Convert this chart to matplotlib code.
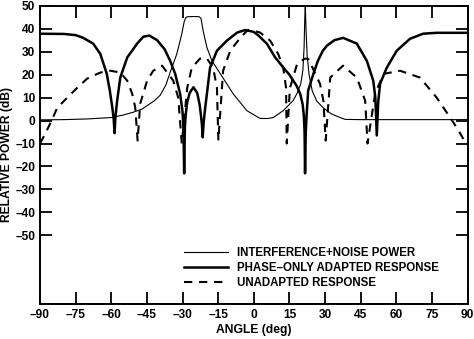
import matplotlib
matplotlib.use("Agg")
import matplotlib.pyplot as plt
from matplotlib.lines import Line2D

plt.rcParams['font.family'] = ['Liberation Sans', 'DejaVu Sans']
plt.rcParams['font.weight'] = 'bold'
plt.rcParams['axes.unicode_minus'] = False

# Interference + noise power (thin solid)
noise_angle = [-90, -80, -70, -60, -55, -50.8, -47.0, -44.9, -42.0, -39.4, -37.0,
               -35.2, -32.4, -30.3, -29.3, -28.6, -28.0, -25.0, -23.0, -22.2, -21.3,
               -19.7, -17.6, -14.1, -8.7, -2.9, 2.7, 6.0, 8.2, 12.4, 16.6, 18.3, 19.8,
               20.7, 21.2, 21.5, 21.7, 22.0, 22.5, 23.3, 24.6, 26.5, 29.2, 32.5, 36.4,
               38.5, 45, 60, 75, 90]
noise_db = [0.3, 0.4, 0.7, 1.3, 2.4, 3.6, 5.0, 6.5, 8.5, 11.0, 15.5,
            21.0, 29.0, 37.7, 43.0, 44.8, 45.2, 45.3, 45.2, 44.5, 39.0,
            31.7, 26.0, 20.4, 11.7, 4.3, 0.9, 0.9, 1.3, 4.3, 8.7, 12.0, 16.0,
            22.0, 32.0, 45.0, 50.0, 40.0, 28.0, 20.0, 13.0, 8.5, 5.6, 3.0, 1.3,
            0.5, 0.4, 0.4, 0.4, 0.4]

# Phase-only adapted response (thick solid)
adapted_angle = [-90, -80, -75, -71.8, -67.6, -64.6, -61.9, -60.6, -59.6, -59.0, -58.6,
                 -58.2, -57.5, -56.2, -53.3, -49.1, -46.5, -44.0, -40.7, -37.5, -35.2,
                 -33.1, -31.0, -30.0, -29.6, -29.3, -29.0, -28.6, -28.0, -27.0, -25.4,
                 -23.8, -22.8, -22.2, -21.8, -21.5, -21.1, -20.5, -18.4, -15.5, -11.3,
                 -7.0, -3.6, 0.0, 2.0, 5.5, 9.0, 12.5, 15.0, 18.1, 19.6, 20.6, 21.1,
                 21.4, 21.6, 21.9, 22.3, 22.9, 25.1, 27.0, 29.1, 30.8, 34.0, 37.6,
                 43.4, 47.6, 50.3, 51.2, 51.8, 52.4, 53.2, 56.0, 60.2, 65.8, 71.3, 77.0, 90]
adapted_db = [37.8, 37.7, 37.2, 36.0, 33.5, 29.0, 20.4, 13.0, 6.0, 1.0, -5.5,
              2.0, 8.7, 18.7, 27.4, 33.5, 36.5, 37.0, 35.0, 31.0, 26.0,
              20.4, 11.7, 4.0, -3.0, -23.0, -3.0, 3.0, 8.0, 12.0, 14.5,
              12.0, 7.0, 2.0, -2.0, -7.3, -1.0, 5.0, 23.0, 30.4, 34.8,
              38.3, 39.4, 38.6, 37.0, 33.5, 27.5, 23.0, 20.0, 15.0, 11.5, 7.0, 2.0,
              -5.0, -23.0, -5.0, 3.0, 13.0, 20.3, 26.0, 30.4, 32.6, 35.0, 36.0,
              33.5, 26.0, 17.4, 10.0, -6.5, 8.0, 16.0, 23.0, 30.4, 35.6, 37.8, 38.2, 38.2]

# Unadapted response (dashed)
quiescent_angle = [-90, -87.8, -85.7, -82.7, -78.5, -74.3, -70.1, -64.6, -60.4, -56.2,
                   -53.3, -51.2, -49.9, -48.9, -47.8, -44.9, -42.3, -38.6, -33.9, -31.8,
                   -30.3, -28.0, -26.1, -22.6, -19.7, -17.1, -15.5, -14.9, -12.9, -9.9,
                   -5.7, -2.9, -1.5, 2.7, 6.9, 10.3, 12.4, 13.6, 13.9, 15.2, 18.3, 21.6,
                   23.0, 27.9, 29.3, 30.3, 32.2, 37.6, 43.4, 46.9, 47.9, 51.1, 54.6,
                   61.6, 70.0, 77.0, 82.7, 86.2, 89.0, 90]
quiescent_db = [-10.0, -5.7, -1.3, 5.6, 10.0, 14.3, 18.3, 20.9, 21.7, 20.9,
                17.4, 11.7, 5.7, -8.7, 7.4, 17.4, 21.7, 23.9, 17.4, 10.0,
                -10.0, 14.3, 23.0, 27.0, 27.0, 23.0, 14.3, -8.7, 21.7, 30.4,
                36.0, 39.0, 39.5, 38.3, 34.8, 29.0, 23.0, 14.3, -10.0, 14.0, 24.8, 27.0,
                26.8, 16.0, 8.7, -8.7, 18.7, 23.9, 18.7, 8.7, -10.0, 11.7, 20.3,
                21.7, 18.7, 10.0, 1.3, -4.3, -9.4, -10.0]

x_ticks = [-90, -75, -60, -45, -30, -15, 0, 15, 30, 45, 60, 75, 90]
y_ticks = [50, 40, 30, 20, 10, 0, -10, -20, -30, -40, -50]

series_labels = ["INTERFERENCE+NOISE POWER",
                 "PHASE\u2013ONLY ADAPTED RESPONSE",
                 "UNADAPTED RESPONSE"]


def dash_label(v):
    return ("\u2013" + str(abs(v))) if v < 0 else str(v)


fig = plt.figure(figsize=(4.74, 3.39), dpi=100)
ax = fig.add_axes([40 / 474, 1 - 304.3 / 339, 427.5 / 474, 298.6 / 339])

ax.plot(noise_angle, noise_db, color='black', lw=0.8, solid_joinstyle='round')
ax.plot(adapted_angle, adapted_db, color='black', lw=1.8, solid_joinstyle='round')
ax.plot(quiescent_angle, quiescent_db, color='black', lw=1.5, dashes=(4, 3.2))

ax.set_xlim(-90, 90)
ax.set_ylim(-80, 50)
ax.set_xticks(x_ticks)
ax.set_xticklabels([dash_label(v) for v in x_ticks])
ax.set_yticks(y_ticks)
ax.set_yticklabels([dash_label(v) for v in y_ticks])

ax.tick_params(direction='in', length=8.5, width=1.3, top=True, right=True,
               labelsize=8.6, pad=3.5)
ax.tick_params(axis='x', pad=3.2)
for sp in ax.spines.values():
    sp.set_linewidth(1.4)

ax.set_xlabel("ANGLE (deg)", fontsize=8.7, fontweight='bold')
ax.set_ylabel("RELATIVE POWER (dB)", fontsize=8.7, fontweight='bold')
ax.xaxis.set_label_coords(0.5, -0.066)
ax.yaxis.set_label_coords(-0.062, 0.5)

handles = [Line2D([], [], color='black', lw=0.8),
           Line2D([], [], color='black', lw=1.8),
           Line2D([], [], color='black', lw=1.5, dashes=(4, 3.2))]
leg = ax.legend(handles, series_labels, loc='upper left',
                bbox_to_anchor=(0.337, 0.193), frameon=False,
                handlelength=3.8, handletextpad=0.75, labelspacing=0.28,
                borderpad=0, borderaxespad=0, prop={'size': 8.3, 'weight': 'bold'})

fig.savefig("out.png", dpi=100)
